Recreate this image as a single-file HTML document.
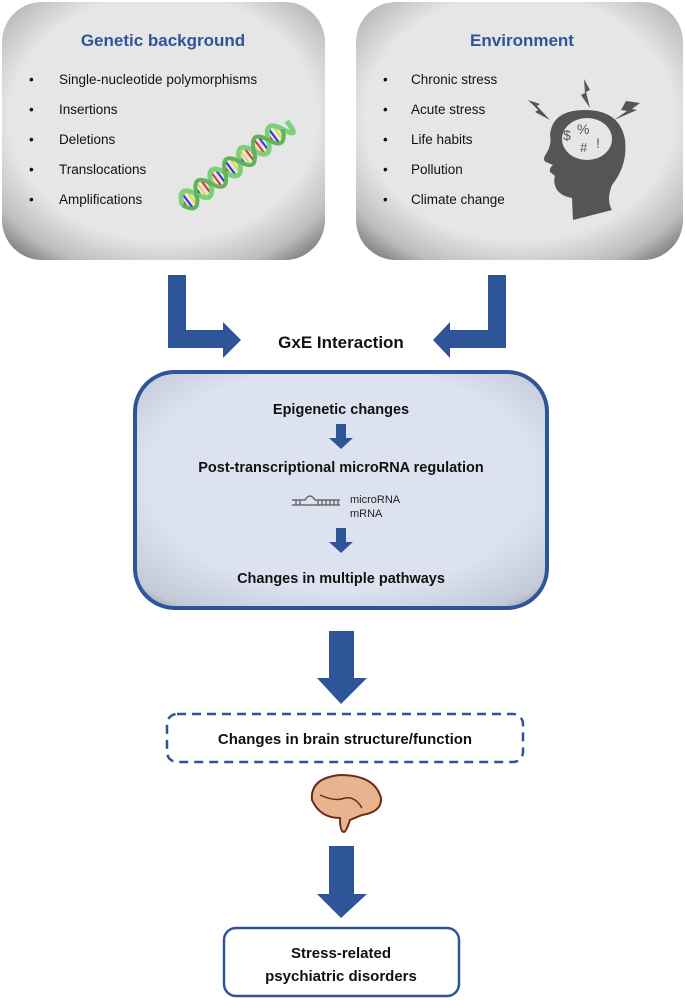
<!DOCTYPE html>
<html><head><meta charset="utf-8"><style>
html,body{margin:0;padding:0;background:#fff;}
svg{display:block;font-family:"Liberation Sans",Arial,sans-serif;}
</style></head><body>
<svg width="685" height="1000" viewBox="0 0 685 1000" xmlns="http://www.w3.org/2000/svg">
<defs>
<radialGradient id="g1" cx="50%" cy="45%" r="68%">
<stop offset="0.7" stop-color="#e6e6e6"/><stop offset="0.9" stop-color="#bdbdbd"/><stop offset="1" stop-color="#8a8a8a"/>
</radialGradient>
<radialGradient id="g2" cx="50%" cy="45%" r="72%">
<stop offset="0.65" stop-color="#dce2ef"/><stop offset="0.92" stop-color="#c3c9d6"/><stop offset="1" stop-color="#8f97a8"/>
</radialGradient>
</defs>
<rect x="2" y="2" width="323" height="258" rx="40" fill="url(#g1)"/>
<rect x="356" y="2" width="327" height="258" rx="40" fill="url(#g1)"/>
<text x="163" y="46" text-anchor="middle" font-size="17" font-weight="bold" fill="#2e5597">Genetic background</text>
<text x="522" y="46" text-anchor="middle" font-size="17" font-weight="bold" fill="#2e5597">Environment</text>
<g font-size="13.5" fill="#111">
<text x="29" y="84">•</text><text x="59" y="84">Single-nucleotide polymorphisms</text>
<text x="29" y="114">•</text><text x="59" y="114">Insertions</text>
<text x="29" y="144">•</text><text x="59" y="144">Deletions</text>
<text x="29" y="174">•</text><text x="59" y="174">Translocations</text>
<text x="29" y="204">•</text><text x="59" y="204">Amplifications</text>
<text x="383" y="84">•</text><text x="411" y="84">Chronic stress</text>
<text x="383" y="114">•</text><text x="411" y="114">Acute stress</text>
<text x="383" y="144">•</text><text x="411" y="144">Life habits</text>
<text x="383" y="174">•</text><text x="411" y="174">Pollution</text>
<text x="383" y="204">•</text><text x="411" y="204">Climate change</text>
</g>
<g transform="translate(182,205) rotate(-37)">
<g stroke-width="2">
<line x1="3" y1="-7" x2="3" y2="7" stroke="#d33"/><line x1="7" y1="-9" x2="7" y2="9" stroke="#33c"/>
<line x1="12" y1="-9" x2="12" y2="9" stroke="#dd3"/><line x1="16" y1="-7" x2="16" y2="7" stroke="#d33"/>
<line x1="21" y1="-7" x2="21" y2="7" stroke="#33c"/><line x1="25" y1="-9" x2="25" y2="9" stroke="#dd3"/>
<line x1="30" y1="-9" x2="30" y2="9" stroke="#d33"/><line x1="34" y1="-7" x2="34" y2="7" stroke="#33c"/>
<line x1="39" y1="-7" x2="39" y2="7" stroke="#dd3"/><line x1="43" y1="-9" x2="43" y2="9" stroke="#d33"/>
<line x1="48" y1="-9" x2="48" y2="9" stroke="#33c"/><line x1="52" y1="-7" x2="52" y2="7" stroke="#dd3"/>
<line x1="57" y1="-7" x2="57" y2="7" stroke="#d33"/><line x1="61" y1="-9" x2="61" y2="9" stroke="#33c"/>
<line x1="66" y1="-9" x2="66" y2="9" stroke="#dd3"/><line x1="70" y1="-7" x2="70" y2="7" stroke="#d33"/>
<line x1="75" y1="-7" x2="75" y2="7" stroke="#33c"/><line x1="79" y1="-9" x2="79" y2="9" stroke="#dd3"/>
<line x1="84" y1="-9" x2="84" y2="9" stroke="#d33"/><line x1="88" y1="-7" x2="88" y2="7" stroke="#33c"/>
<line x1="93" y1="-7" x2="93" y2="7" stroke="#dd3"/><line x1="97" y1="-9" x2="97" y2="9" stroke="#d33"/>
<line x1="102" y1="-9" x2="102" y2="9" stroke="#33c"/><line x1="106" y1="-7" x2="106" y2="7" stroke="#dd3"/>
<line x1="111" y1="-7" x2="111" y2="7" stroke="#d33"/><line x1="115" y1="-9" x2="115" y2="9" stroke="#33c"/>
<line x1="120" y1="-9" x2="120" y2="9" stroke="#dd3"/><line x1="124" y1="-7" x2="124" y2="7" stroke="#d33"/>
</g>
<path d="M0 0 Q9 -20 18 0 T36 0 T54 0 T72 0 T90 0 T108 0 T126 0 T134 -4" stroke="#7fcf7a" stroke-width="5" fill="none"/>
<path d="M0 0 Q9 20 18 0 T36 0 T54 0 T72 0 T90 0 T108 0 T126 0" stroke="#5fb35a" stroke-width="4" fill="none"/>
</g>
<path d="M573 220 L572 198 Q560 196 556 188 Q553 182 555 176 L550 172 Q549 168 553 165 L546 162 Q542 160 546 154 Q552 145 550 135 Q552 110 585 110 Q620 110 625 140 Q628 165 612 185 Q606 200 612 210 Z" fill="#555"/>
<ellipse cx="587" cy="139" rx="25" ry="21" fill="#e6e6e6"/>
<text x="563" y="140" font-size="14" fill="#555">$</text><text x="577" y="134" font-size="14" fill="#555">%</text>
<text x="580" y="152" font-size="13" fill="#555">#</text><text x="596" y="148" font-size="14" fill="#555">!</text>
<path d="M528 100 L540 104 L537 106 L550 120 L535 112 L538 110 Z" fill="#555"/>
<path d="M584 79 L590 90 L586 92 L590 108 L581 95 L585 93 Z" fill="#555"/>
<path d="M626 101 L640 103 L632 109 L637 110 L614 120 L627 111 L621 110 Z" fill="#555"/>
<path d="M168 275 H186 V330 H223 V322 L241 340 L223 358 V348 H168 Z" fill="#2e5597"/>
<path d="M488 275 H506 V348 H450 V358 L433 340 L450 322 V330 H488 Z" fill="#2e5597"/>
<text x="341" y="348" text-anchor="middle" font-size="17" font-weight="bold" fill="#111">GxE Interaction</text>
<rect x="135" y="372" width="412" height="236" rx="40" fill="url(#g2)" stroke="#2e5597" stroke-width="4"/>
<g font-weight="bold" fill="#111" text-anchor="middle">
<text x="341" y="414" font-size="14.5">Epigenetic changes</text>
<text x="341" y="472" font-size="14.5">Post-transcriptional microRNA regulation</text>
<text x="341" y="583" font-size="14.5">Changes in multiple pathways</text>
</g>
<path d="M336 424 H346 V438 H353 L341 449 L329 438 H336 Z" fill="#2e5597"/>
<path d="M336 528 H346 V542 H353 L341 553 L329 542 H336 Z" fill="#2e5597"/>
<g stroke="#555" stroke-width="1.2" fill="none">
<line x1="292" y1="505" x2="340" y2="505"/>
<path d="M292 500 H305 Q310 492 315 500 H340"/>
<line x1="296" y1="500" x2="296" y2="505"/><line x1="300" y1="500" x2="300" y2="505"/>
<line x1="318" y1="500" x2="318" y2="505"/><line x1="322" y1="500" x2="322" y2="505"/><line x1="326" y1="500" x2="326" y2="505"/><line x1="330" y1="500" x2="330" y2="505"/><line x1="334" y1="500" x2="334" y2="505"/><line x1="338" y1="500" x2="338" y2="505"/>
</g>
<text x="350" y="503" font-size="11" fill="#222">microRNA</text>
<text x="350" y="517" font-size="11" fill="#222">mRNA</text>
<path d="M329 631 H354 V678 H367 L341 704 L317 678 H329 Z" fill="#2e5597"/>
<rect x="167" y="714" width="356" height="48" rx="10" fill="none" stroke="#2e5597" stroke-width="2.5" stroke-dasharray="9,6"/>
<text x="345" y="744" text-anchor="middle" font-size="15" font-weight="bold" fill="#111">Changes in brain structure/function</text>
<path d="M312 800 Q310 778 340 775 Q375 775 381 798 Q382 812 362 815 L350 820 Q346 832 344 832 Q340 832 340 818 Q320 818 312 800 Z" fill="#e8b48f" stroke="#6b2b1a" stroke-width="2"/>
<path d="M320 795 Q335 802 345 798 Q355 796 362 808" fill="none" stroke="#6b2b1a" stroke-width="1.5"/>
<path d="M329 846 H354 V894 H367 L341 918 L317 894 H329 Z" fill="#2e5597"/>
<rect x="224" y="928" width="235" height="68" rx="12" fill="#fff" stroke="#2e5597" stroke-width="2.5"/>
<text x="341" y="958" text-anchor="middle" font-size="15" font-weight="bold" fill="#111">Stress-related</text>
<text x="341" y="981" text-anchor="middle" font-size="15" font-weight="bold" fill="#111">psychiatric disorders</text>
</svg>
</body></html>
